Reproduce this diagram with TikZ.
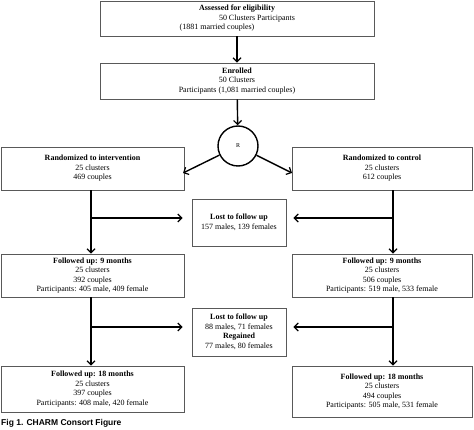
\documentclass[tikz,border=0pt]{standalone}
\usepackage{fontspec}
\setmainfont{Liberation Serif}
\newfontfamily\capfont{Liberation Sans}
\usetikzlibrary{arrows.meta}
\begin{document}
\begin{tikzpicture}[x=1pt,y=-1pt,
  box/.style={draw=black!65,line width=0.8pt,align=center,inner sep=0pt,
    font=\fontsize{8}{9.5}\selectfont},
  arr/.style={line width=1.4pt,-{Straight Barb[length=4pt,width=8pt,line width=1.2pt]}}]
\useasboundingbox (0,0) rectangle (474,430);

\node[box,minimum width=274pt,minimum height=35pt] (assess) at (237,18.5)
  {\textbf{Assessed for eligibility}\\ \hspace*{40pt}50 Clusters Participants\\ (1881 married couples)\hspace*{40pt}\mbox{}};
\node[box,minimum width=274pt,minimum height=36pt] (enrol) at (237,81)
  {\textbf{Enrolled}\\ 50 Clusters\\ Participants (1,081 married couples)};
\node[draw,circle,line width=1.4pt,minimum size=40pt,inner sep=0pt,font=\fontsize{6}{7}\selectfont] (rand) at (238,146) {R};

\node[box,minimum width=183pt,minimum height=43pt] (randL) at (92.5,168.5)
  {\textbf{Randomized to intervention}\\ 25 clusters\\ 469 couples};
\node[box,minimum width=180pt,minimum height=43pt] (randR) at (382,168.5)
  {\textbf{Randomized to control}\\ 25 clusters\\ 612 couples};

\node[box,minimum width=94pt,minimum height=47pt] (lost1) at (239,222.5)
  {\textbf{Lost to follow up}\\ 157 males, 139 females};

\node[box,minimum width=183pt,minimum height=43pt] (fu9L) at (92.5,275.5)
  {\textbf{Followed up: 9 months}\\ 25 clusters\\ 392 couples\\ Participants: 405 male, 409 female};
\node[box,minimum width=180pt,minimum height=43pt] (fu9R) at (382,275.5)
  {\textbf{Followed up: 9 months}\\ 25 clusters\\ 506 couples\\ Participants: 519 male, 533 female};

\node[box,minimum width=94pt,minimum height=48pt] (lost2) at (239,332)
  {\textbf{Lost to follow up}\\ 88 males, 71 females\\ \textbf{Regained}\\ 77 males, 80 females};

\node[box,minimum width=183pt,minimum height=46pt] (fu18L) at (92.5,389)
  {\textbf{Followed up: 18 months}\\ 25 clusters\\ 397 couples\\ Participants: 408 male, 420 female};
\node[box,minimum width=180pt,minimum height=51pt] (fu18R) at (382,391.5)
  {\textbf{Followed up: 18 months}\\ 25 clusters\\ 494 couples\\ Participants: 505 male, 531 female};

\node[anchor=north west,inner sep=0pt,font=\capfont\bfseries\fontsize{8.5}{10}\selectfont] (caption) at (1,419)
  {Fig 1. CHARM Consort Figure};

% branch points
\coordinate (splitL1) at (91,218);
\coordinate (splitR1) at (393,218);
\coordinate (splitL2) at (91,327);
\coordinate (splitR2) at (393,327);
\coordinate (tipL) at (183,173);
\coordinate (tipR) at (292,173);

\draw[arr] (assess) -- (enrol);
\draw[arr] (enrol) -- (rand);
\draw[arr] (rand) -- (tipL);
\draw[arr] (rand) -- (tipR);

\draw[arr] (randL.south -| splitL1) -- (fu9L.north -| splitL1);
\draw[arr,shorten >=9pt] (splitL1) -- (splitL1 -| lost1.west);
\draw[arr] (randR.south -| splitR1) -- (fu9R.north -| splitR1);
\draw[arr,shorten >=7pt] (splitR1) -- (splitR1 -| lost1.east);

\draw[arr] (fu9L.south -| splitL2) -- (fu18L.north -| splitL2);
\draw[arr,shorten >=9pt] (splitL2) -- (splitL2 -| lost2.west);
\draw[arr] (fu9R.south -| splitR2) -- (fu18R.north -| splitR2);
\draw[arr,shorten >=7pt] (splitR2) -- (splitR2 -| lost2.east);
\end{tikzpicture}
\end{document}
